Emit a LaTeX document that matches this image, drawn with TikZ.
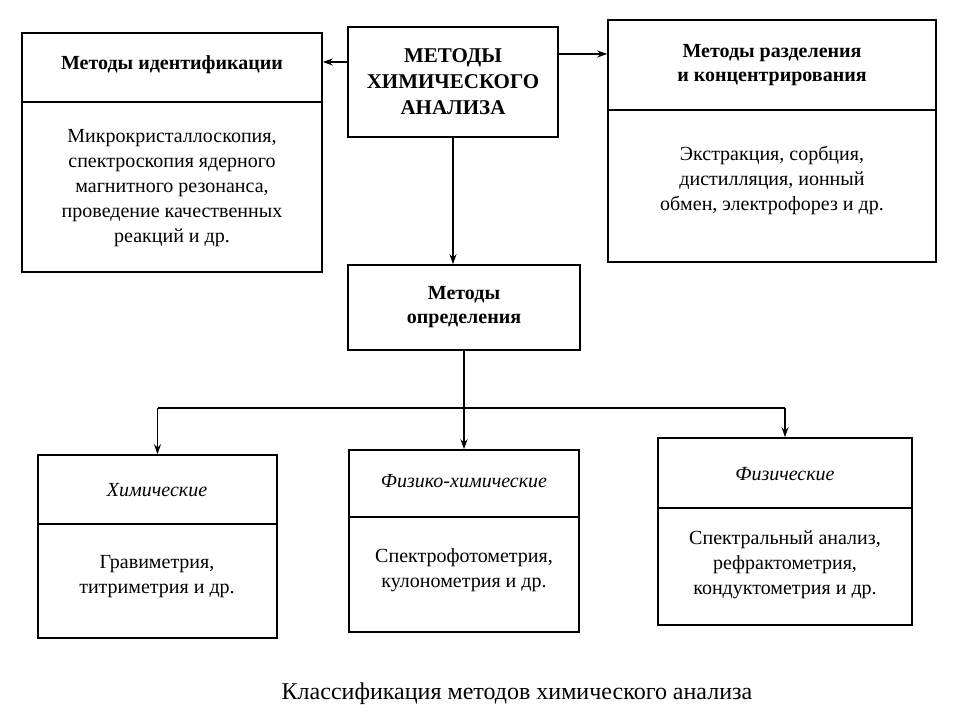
\documentclass[tikz,border=0pt]{standalone}
\usepackage{fontspec}
\setmainfont{Liberation Serif}
\newfontfamily\tnr{Liberation Serif}
\usetikzlibrary{arrows.meta,calc}
\begin{document}
\begin{tikzpicture}[x=1pt,y=1pt,
  box/.style={draw,line width=1.6pt,rectangle,inner sep=0pt},
  txt/.style={align=center,font=\tnr\fontsize{20}{25}\selectfont},
  hd/.style={align=center,font=\tnr\fontsize{20}{24}\selectfont\bfseries},
  itx/.style={align=center,font=\tnr\fontsize{20}{24}\selectfont\itshape},
  arr/.style={line width=1.3pt,-{Stealth[length=10pt,width=7pt]}},
  ln/.style={line width=1.3pt}]
\useasboundingbox (0,0) rectangle (960,720);
\node[box,minimum width=210,minimum height=110] (top) at (453,638) {};
\node[hd,font=\tnr\fontsize{21}{26}\selectfont\bfseries] at (top) {МЕТОДЫ\\ХИМИЧЕСКОГО\\АНАЛИЗА};
\node[box,minimum width=300,minimum height=239] (left) at (172,567.5) {};
\draw[ln] (22,618) -- (322,618);
\node[hd] (lh) at (172,655) {Методы идентификации};
\node[txt] (lb) at (172,532) {Микрокристаллоскопия,\\спектроскопия ядерного\\магнитного резонанса,\\проведение качественных\\реакций и др.};
\node[box,minimum width=328,minimum height=242] (right) at (772,579) {};
\draw[ln] (608,610) -- (936,610);
\node[hd] (rh) at (772,655) {Методы разделения\\и концентрирования};
\node[txt] (rb) at (772,540) {Экстракция, сорбция,\\дистилляция, ионный\\обмен, электрофорез и др.};
\node[box,minimum width=232,minimum height=85] (mid) at (464,412.5) {};
\node[hd] at (mid) {Методы\\определения};
\node[box,minimum width=239,minimum height=183] (b1) at (157.5,173.5) {};
\draw[ln] (38,196) -- (277,196);
\node[itx] at (157,230) {Химические};
\node[txt] at (157,143) {Гравиметрия,\\титриметрия и др.};
\node[box,minimum width=230,minimum height=182] (b2) at (464,179) {};
\draw[ln] (349,203) -- (579,203);
\node[itx] at (464,239) {Физико-химические};
\node[txt] at (464,150) {Спектрофотометрия,\\кулонометрия и др.};
\node[box,minimum width=254,minimum height=187] (b3) at (785,188.5) {};
\draw[ln] (658,212) -- (912,212);
\node[itx] at (785,246) {Физические};
\node[txt] at (785,155) {Спектральный анализ,\\рефрактометрия,\\кондуктометрия и др.};
\node[font=\tnr\fontsize{24}{28}\selectfont] (cap) at (517,26) {Классификация методов химического анализа};
\draw[arr] ([yshift=20]top.west) -- ([yshift=20]top.west -| left.east);
\draw[arr] ([yshift=28]top.east) -- ([yshift=28]top.east -| right.west);
\draw[arr] (top.south) -- (top.south |- mid.north);
\coordinate (j) at (mid.south |- 0,312);
\draw[ln] (mid.south) -- (j);
\draw[ln] (b1.north |- j) -- (b3.north |- j);
\draw[arr] (b1.north |- j) -- (b1.north);
\draw[arr] (j) -- (b2.north);
\draw[arr] (b3.north |- j) -- (b3.north);
\end{tikzpicture}
\end{document}
